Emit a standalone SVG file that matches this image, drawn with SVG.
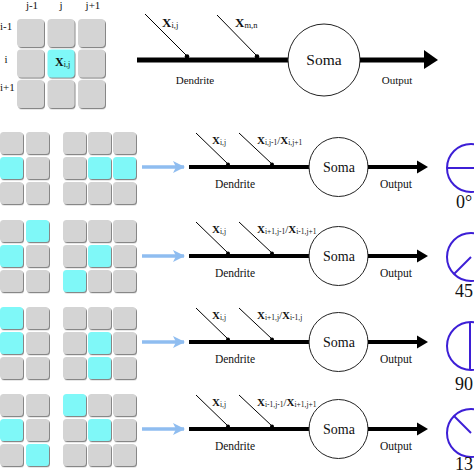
<svg xmlns="http://www.w3.org/2000/svg" width="474" height="474" viewBox="0 0 474 474">
<defs>
<filter id="sh" x="-20%" y="-20%" width="150%" height="150%">
<feDropShadow dx="1" dy="1.2" stdDeviation="0.6" flood-color="#7a7a7a" flood-opacity="0.9"/>
</filter>
<marker id="blueHead" viewBox="0 0 12 12" refX="11" refY="6" markerWidth="12" markerHeight="12" markerUnits="userSpaceOnUse" orient="auto">
<path d="M0,0 L12,6 L0,12 L3,6 Z" fill="#8fbdf0"/>
</marker>
</defs>
<style>
text{font-family:"Liberation Serif","Times New Roman",serif;fill:#111}
.c{fill:#d4d4d4;filter:url(#sh)}
.h{fill:#7ff8f8;filter:url(#sh)}
.lbl{font-size:11px}
.X{font-weight:bold}
.soma{fill:#fff;stroke:#222;stroke-width:1}
.ax{stroke:#000;stroke-width:4}
.dd{stroke:#000;stroke-width:1}
.ang{fill:#fff;stroke:#3d1fd6;stroke-width:2}
.angl{stroke:#3d1fd6;stroke-width:2}
.deg{font-size:18px}
.blue{stroke:#8fbdf0;stroke-width:3.5;fill:none}
</style>
<rect width="474" height="474" fill="#fff"/>

<g id="top-grid">
<text class="lbl" x="32" y="9" text-anchor="middle">j-1</text>
<text class="lbl" x="61" y="9" text-anchor="middle">j</text>
<text class="lbl" x="93" y="9" text-anchor="middle">j+1</text>
<text class="lbl" x="0" y="30">i-1</text>
<text class="lbl" x="6" y="63" text-anchor="middle">i</text>
<text class="lbl" x="0" y="91">i+1</text>
<rect class="c" x="17" y="19" width="27" height="28" rx="4"/>
<rect class="c" x="47.5" y="19" width="27" height="28" rx="4"/>
<rect class="c" x="78" y="19" width="27" height="28" rx="4"/>
<rect class="c" x="17" y="49.5" width="27" height="28" rx="4"/>
<rect class="h" x="47.5" y="49.5" width="27" height="28" rx="4"/>
<rect class="c" x="78" y="49.5" width="27" height="28" rx="4"/>
<rect class="c" x="17" y="80" width="27" height="28" rx="4"/>
<rect class="c" x="47.5" y="80" width="27" height="28" rx="4"/>
<rect class="c" x="78" y="80" width="27" height="28" rx="4"/>
<text x="55" y="66" font-size="12"><tspan class="X">X</tspan><tspan font-size="8" dy="1">i,j</tspan></text>
</g>

<g id="top-neuron">
<line x1="137" y1="60" x2="289" y2="60" stroke="#000" stroke-width="5"/>
<line class="dd" x1="145" y1="14" x2="187" y2="56"/>
<line class="dd" x1="217" y1="15" x2="257" y2="56"/>
<circle cx="187" cy="56.5" r="2.3"/>
<circle cx="257" cy="56.5" r="2.3"/>
<text x="162" y="27" font-size="13"><tspan class="X">X</tspan><tspan font-size="8.5" dy="1">i,j</tspan></text>
<text x="235" y="27" font-size="13"><tspan class="X">X</tspan><tspan font-size="8.5" dy="1">m,n</tspan></text>
<circle class="soma" cx="324" cy="60" r="36"/>
<text x="324" y="65" font-size="15.5" text-anchor="middle">Soma</text>
<line x1="360" y1="60" x2="426" y2="60" stroke="#000" stroke-width="5"/>
<polygon points="424,50 438,60 424,69"/>
<text x="195" y="84" font-size="11" text-anchor="middle">Dendrite</text>
<text x="397" y="84" font-size="11" text-anchor="middle">Output</text>
</g>

<!-- Row 1 : 0 degrees -->
<g id="row1-grids" transform="translate(0,132)">
<rect class="c" x="0" y="0" width="23" height="22" rx="3.5"/>
<rect class="c" x="26" y="0" width="23" height="22" rx="3.5"/>
<rect class="h" x="0" y="25" width="23" height="22" rx="3.5"/>
<rect class="c" x="26" y="25" width="23" height="22" rx="3.5"/>
<rect class="c" x="0" y="50" width="23" height="22" rx="3.5"/>
<rect class="c" x="26" y="50" width="23" height="22" rx="3.5"/>
<rect class="c" x="63" y="0" width="23" height="22" rx="3.5"/>
<rect class="c" x="88" y="0" width="23" height="22" rx="3.5"/>
<rect class="c" x="113" y="0" width="23" height="22" rx="3.5"/>
<rect class="c" x="63" y="25" width="23" height="22" rx="3.5"/>
<rect class="h" x="88" y="25" width="23" height="22" rx="3.5"/>
<rect class="h" x="113" y="25" width="23" height="22" rx="3.5"/>
<rect class="c" x="63" y="50" width="23" height="22" rx="3.5"/>
<rect class="c" x="88" y="50" width="23" height="22" rx="3.5"/>
<rect class="c" x="113" y="50" width="23" height="22" rx="3.5"/>
</g>
<g id="row1-neuron" transform="translate(0,167)">
<line class="ax" x1="189" y1="0" x2="310" y2="0"/>
<line class="dd" x1="196" y1="-34" x2="228" y2="-3"/>
<line class="dd" x1="239" y1="-34" x2="272" y2="-3"/>
<circle cx="228" cy="-2.5" r="2"/>
<circle cx="272" cy="-2.5" r="2"/>
<text x="212" y="-23" font-size="11"><tspan class="X">X</tspan><tspan font-size="7.5" dy="1">i,j</tspan></text>
<text x="257" y="-23" font-size="11"><tspan class="X">X</tspan><tspan font-size="7.5" dy="1">i,j-1</tspan><tspan dy="-1">/</tspan><tspan class="X">X</tspan><tspan font-size="7.5" dy="1">i,j+1</tspan></text>
<circle class="soma" cx="338.5" cy="0" r="29.5"/>
<text x="339" y="5" font-size="14" text-anchor="middle">Soma</text>
<line class="ax" x1="368" y1="0" x2="419" y2="0"/>
<polygon points="417,-6.5 428,0 417,6.5"/>
<text x="235" y="21" font-size="11.5" text-anchor="middle">Dendrite</text>
<text x="396" y="21" font-size="11.5" text-anchor="middle">Output</text>
</g>
<g id="row1-angle">
<circle class="ang" cx="471" cy="168" r="24"/>
<line class="angl" x1="447" y1="168" x2="474" y2="168"/>
<text class="deg" x="456" y="208">0°</text>
</g>

<!-- Row 2 : 45 degrees -->
<g id="row2-grids" transform="translate(0,220)">
<rect class="c" x="0" y="0" width="23" height="22" rx="3.5"/>
<rect class="h" x="26" y="0" width="23" height="22" rx="3.5"/>
<rect class="h" x="0" y="25" width="23" height="22" rx="3.5"/>
<rect class="c" x="26" y="25" width="23" height="22" rx="3.5"/>
<rect class="c" x="0" y="50" width="23" height="22" rx="3.5"/>
<rect class="c" x="26" y="50" width="23" height="22" rx="3.5"/>
<rect class="c" x="63" y="0" width="23" height="22" rx="3.5"/>
<rect class="c" x="88" y="0" width="23" height="22" rx="3.5"/>
<rect class="c" x="113" y="0" width="23" height="22" rx="3.5"/>
<rect class="c" x="63" y="25" width="23" height="22" rx="3.5"/>
<rect class="h" x="88" y="25" width="23" height="22" rx="3.5"/>
<rect class="c" x="113" y="25" width="23" height="22" rx="3.5"/>
<rect class="h" x="63" y="50" width="23" height="22" rx="3.5"/>
<rect class="c" x="88" y="50" width="23" height="22" rx="3.5"/>
<rect class="c" x="113" y="50" width="23" height="22" rx="3.5"/>
</g>
<g id="row2-neuron" transform="translate(0,256)">
<line class="ax" x1="189" y1="0" x2="310" y2="0"/>
<line class="dd" x1="196" y1="-34" x2="228" y2="-3"/>
<line class="dd" x1="239" y1="-34" x2="272" y2="-3"/>
<circle cx="228" cy="-2.5" r="2"/>
<circle cx="272" cy="-2.5" r="2"/>
<text x="212" y="-23" font-size="11"><tspan class="X">X</tspan><tspan font-size="7.5" dy="1">i,j</tspan></text>
<text x="257" y="-23" font-size="11"><tspan class="X">X</tspan><tspan font-size="7.5" dy="1">i+1,j-1</tspan><tspan dy="-1">/</tspan><tspan class="X">X</tspan><tspan font-size="7.5" dy="1">i-1,j+1</tspan></text>
<circle class="soma" cx="338.5" cy="0" r="29.5"/>
<text x="339" y="5" font-size="14" text-anchor="middle">Soma</text>
<line class="ax" x1="368" y1="0" x2="419" y2="0"/>
<polygon points="417,-6.5 428,0 417,6.5"/>
<text x="235" y="21" font-size="11.5" text-anchor="middle">Dendrite</text>
<text x="396" y="21" font-size="11.5" text-anchor="middle">Output</text>
</g>
<g id="row2-angle">
<circle class="ang" cx="471" cy="257" r="24"/>
<line class="angl" x1="454" y1="274" x2="471" y2="257"/>
<text class="deg" x="455" y="297">45</text>
</g>

<!-- Row 3 : 90 degrees -->
<g id="row3-grids" transform="translate(0,307)">
<rect class="h" x="0" y="0" width="23" height="22" rx="3.5"/>
<rect class="c" x="26" y="0" width="23" height="22" rx="3.5"/>
<rect class="h" x="0" y="25" width="23" height="22" rx="3.5"/>
<rect class="c" x="26" y="25" width="23" height="22" rx="3.5"/>
<rect class="c" x="0" y="50" width="23" height="22" rx="3.5"/>
<rect class="c" x="26" y="50" width="23" height="22" rx="3.5"/>
<rect class="c" x="63" y="0" width="23" height="22" rx="3.5"/>
<rect class="c" x="88" y="0" width="23" height="22" rx="3.5"/>
<rect class="c" x="113" y="0" width="23" height="22" rx="3.5"/>
<rect class="c" x="63" y="25" width="23" height="22" rx="3.5"/>
<rect class="h" x="88" y="25" width="23" height="22" rx="3.5"/>
<rect class="c" x="113" y="25" width="23" height="22" rx="3.5"/>
<rect class="c" x="63" y="50" width="23" height="22" rx="3.5"/>
<rect class="h" x="88" y="50" width="23" height="22" rx="3.5"/>
<rect class="c" x="113" y="50" width="23" height="22" rx="3.5"/>
</g>
<g id="row3-neuron" transform="translate(0,342)">
<line class="ax" x1="189" y1="0" x2="310" y2="0"/>
<line class="dd" x1="196" y1="-34" x2="228" y2="-3"/>
<line class="dd" x1="239" y1="-34" x2="272" y2="-3"/>
<circle cx="228" cy="-2.5" r="2"/>
<circle cx="272" cy="-2.5" r="2"/>
<text x="212" y="-23" font-size="11"><tspan class="X">X</tspan><tspan font-size="7.5" dy="1">i,j</tspan></text>
<text x="257" y="-23" font-size="11"><tspan class="X">X</tspan><tspan font-size="7.5" dy="1">i+1,j</tspan><tspan dy="-1">/</tspan><tspan class="X">X</tspan><tspan font-size="7.5" dy="1">i-1,j</tspan></text>
<circle class="soma" cx="338.5" cy="0" r="29.5"/>
<text x="339" y="5" font-size="14" text-anchor="middle">Soma</text>
<line class="ax" x1="368" y1="0" x2="419" y2="0"/>
<polygon points="417,-6.5 428,0 417,6.5"/>
<text x="235" y="21" font-size="11.5" text-anchor="middle">Dendrite</text>
<text x="396" y="21" font-size="11.5" text-anchor="middle">Output</text>
</g>
<g id="row3-angle">
<circle class="ang" cx="471" cy="346" r="24"/>
<line class="angl" x1="470" y1="322" x2="470" y2="370"/>
<text class="deg" x="455" y="390">90</text>
</g>

<!-- Row 4 : 135 degrees -->
<g id="row4-grids" transform="translate(0,394)">
<rect class="c" x="0" y="0" width="23" height="22" rx="3.5"/>
<rect class="c" x="26" y="0" width="23" height="22" rx="3.5"/>
<rect class="h" x="0" y="25" width="23" height="22" rx="3.5"/>
<rect class="c" x="26" y="25" width="23" height="22" rx="3.5"/>
<rect class="c" x="0" y="50" width="23" height="22" rx="3.5"/>
<rect class="h" x="26" y="50" width="23" height="22" rx="3.5"/>
<rect class="h" x="63" y="0" width="23" height="22" rx="3.5"/>
<rect class="c" x="88" y="0" width="23" height="22" rx="3.5"/>
<rect class="c" x="113" y="0" width="23" height="22" rx="3.5"/>
<rect class="c" x="63" y="25" width="23" height="22" rx="3.5"/>
<rect class="h" x="88" y="25" width="23" height="22" rx="3.5"/>
<rect class="c" x="113" y="25" width="23" height="22" rx="3.5"/>
<rect class="c" x="63" y="50" width="23" height="22" rx="3.5"/>
<rect class="c" x="88" y="50" width="23" height="22" rx="3.5"/>
<rect class="c" x="113" y="50" width="23" height="22" rx="3.5"/>
</g>
<g id="row4-neuron" transform="translate(0,429)">
<line class="ax" x1="189" y1="0" x2="310" y2="0"/>
<line class="dd" x1="196" y1="-34" x2="228" y2="-3"/>
<line class="dd" x1="239" y1="-34" x2="272" y2="-3"/>
<circle cx="228" cy="-2.5" r="2"/>
<circle cx="272" cy="-2.5" r="2"/>
<text x="212" y="-23" font-size="11"><tspan class="X">X</tspan><tspan font-size="7.5" dy="1">i,j</tspan></text>
<text x="257" y="-23" font-size="11"><tspan class="X">X</tspan><tspan font-size="7.5" dy="1">i-1,j-1</tspan><tspan dy="-1">/</tspan><tspan class="X">X</tspan><tspan font-size="7.5" dy="1">i+1,j+1</tspan></text>
<circle class="soma" cx="338.5" cy="0" r="29.5"/>
<text x="339" y="5" font-size="14" text-anchor="middle">Soma</text>
<line class="ax" x1="368" y1="0" x2="419" y2="0"/>
<polygon points="417,-6.5 428,0 417,6.5"/>
<text x="235" y="21" font-size="11.5" text-anchor="middle">Dendrite</text>
<text x="396" y="21" font-size="11.5" text-anchor="middle">Output</text>
</g>
<g id="row4-angle">
<circle class="ang" cx="471" cy="433" r="24"/>
<line class="angl" x1="454" y1="416" x2="471" y2="433"/>
<text class="deg" x="455" y="470">13</text>
</g>

<g id="connectors">
<line class="blue" x1="142" y1="167" x2="184" y2="167" marker-end="url(#blueHead)"/>
<line class="blue" x1="142" y1="256" x2="184" y2="256" marker-end="url(#blueHead)"/>
<line class="blue" x1="142" y1="342" x2="184" y2="342" marker-end="url(#blueHead)"/>
<line class="blue" x1="142" y1="429" x2="184" y2="429" marker-end="url(#blueHead)"/>
</g>
</svg>
